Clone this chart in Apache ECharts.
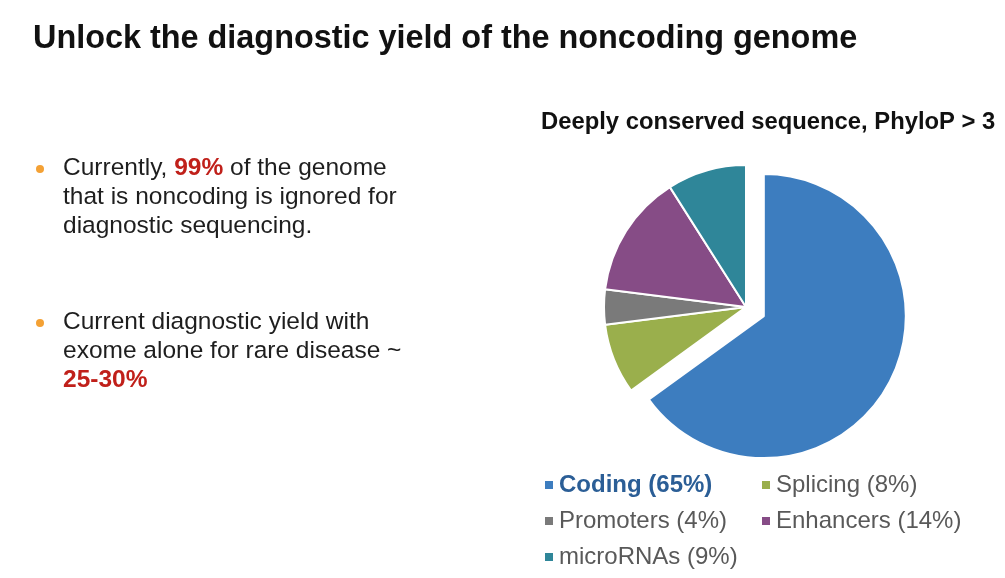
<!DOCTYPE html>
<html>
<head>
<meta charset="utf-8">
<script src="https://cdn.jsdelivr.net/npm/echarts@6/dist/echarts.min.js"></script>
<style>
html,body{margin:0;padding:0;background:#fff;}
#chart{width:1005px;height:578px;}
</style>
</head>
<body>
<div id="chart"></div>
<script>
// ---- data ----
const categories = ['Coding', 'Splicing', 'Promoters', 'Enhancers', 'microRNAs'];
const shares = [65, 8, 4, 14, 9];
const sliceColors = ['#3d7dbf', '#9aaf4c', '#7a7a7a', '#864c86', '#2f8699'];
const legendCol1 = ['Coding', 'Promoters', 'microRNAs'];
const legendCol2 = ['Splicing', 'Enhancers'];

const FONT = '"Liberation Sans", Arial, Helvetica, sans-serif';

const pieData = categories.map((c, i) => ({
  name: c,
  value: shares[i],
  selected: i === 0,
  itemStyle: { color: sliceColors[i] }
}));

function legendName(name) {
  const i = categories.indexOf(name);
  return name + ' (' + shares[i] + '%)';
}
function legendItems(list) {
  return list.map(n => n === 'Coding'
    ? { name: n, textStyle: { fontWeight: 'bold', color: '#2b5e96' } }
    : { name: n });
}
const legendBase = {
  orient: 'vertical',
  padding: 0,
  itemGap: 12,
  itemWidth: 10,
  itemHeight: 10,
  icon: 'rect',
  selectedMode: false,
  formatter: legendName,
  textStyle: { fontFamily: FONT, fontSize: 24, color: '#595959', lineHeight: 24 }
};

const textRich = {
  n: { fontFamily: FONT, fontSize: 24.5, color: '#1e1e1e', fontWeight: 'normal', lineHeight: 29 },
  r: { fontFamily: FONT, fontSize: 24.5, color: '#c0201a', fontWeight: 'bold', lineHeight: 29 }
};

const chart = echarts.init(document.getElementById('chart'));
chart.setOption({
  backgroundColor: '#ffffff',
  animation: false,
  title: [
    {
      text: 'Unlock the diagnostic yield of the noncoding genome',
      left: 33, top: 23, padding: 0,
      textStyle: { fontFamily: FONT, fontSize: 32.4, fontWeight: 'bold', color: '#111111' }
    },
    {
      text: 'Deeply conserved sequence, PhyloP > 3',
      left: 541, top: 110, padding: 0,
      textStyle: { fontFamily: FONT, fontSize: 23.8, fontWeight: 'bold', color: '#111111' }
    },
    {
      text: '{n|Currently, }{r|99%}{n| of the genome}\n{n|that is noncoding is ignored for}\n{n|diagnostic sequencing.}',
      left: 63, top: 154, padding: 0,
      textStyle: { fontWeight: 'normal', rich: textRich }
    },
    {
      text: '{n|Current diagnostic yield with}\n{n|exome alone for rare disease ~}\n{r|25-30%}',
      left: 63, top: 308, padding: 0,
      textStyle: { fontWeight: 'normal', rich: textRich }
    }
  ],
  graphic: [
    { type: 'circle', shape: { cx: 40, cy: 169, r: 4 }, style: { fill: '#f4a134' } },
    { type: 'circle', shape: { cx: 40, cy: 323, r: 4 }, style: { fill: '#f4a134' } }
  ],
  legend: [
    Object.assign({}, legendBase, { left: 543, top: 473, data: legendItems(legendCol1) }),
    Object.assign({}, legendBase, { left: 760, top: 473, data: legendItems(legendCol2) })
  ],
  series: [{
    type: 'pie',
    center: [746, 307],
    radius: 142,
    startAngle: 90,
    clockwise: true,
    selectedMode: 'single',
    selectedOffset: 20,
    label: { show: false },
    labelLine: { show: false },
    emphasis: { disabled: true },
    itemStyle: { borderColor: '#ffffff', borderWidth: 2 },
    data: pieData
  }]
});
</script>
</body>
</html>
